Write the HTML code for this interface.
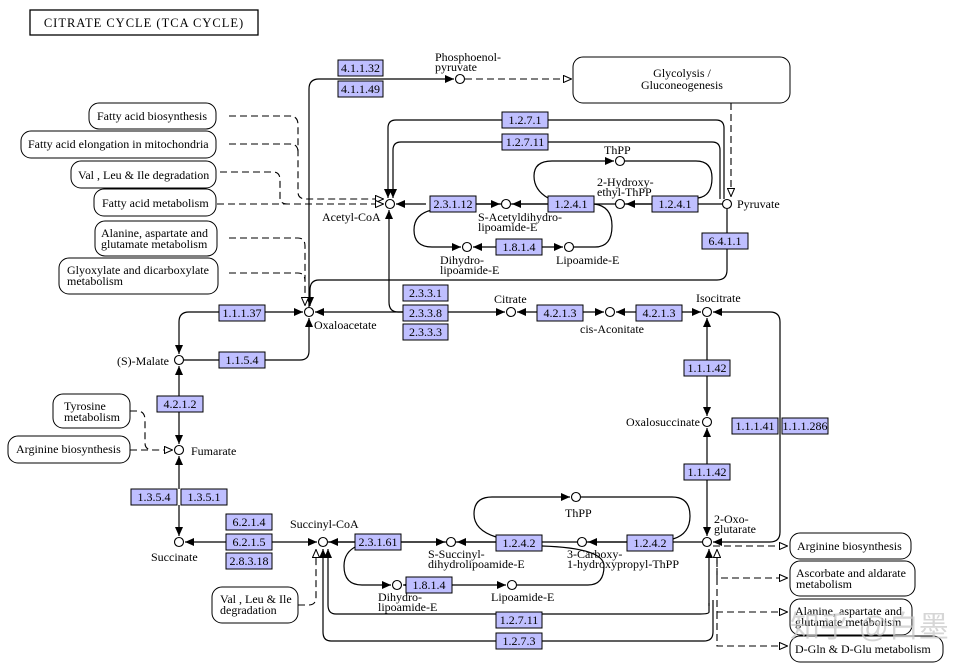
<!DOCTYPE html>
<html><head><meta charset="utf-8"><style>
html,body{margin:0;padding:0;background:#fff;}
svg{display:block;font-family:"Liberation Serif","Noto Serif CJK SC",serif;}
.e rect{fill:#bfbfff;stroke:#000;stroke-width:1;}
.e text{font-size:12px;text-anchor:middle;}
.m rect{fill:#fff;stroke:#000;stroke-width:1;}
.m text{font-size:12px;}
.l{fill:none;stroke:#000;stroke-width:1.2;}
.d{fill:none;stroke:#000;stroke-width:1.1;stroke-dasharray:7,4;}
.c{fill:#fff;stroke:#000;stroke-width:1.1;}
.t{font-size:12px;}
</style></head><body>
<svg width="956" height="665" viewBox="0 0 956 665" xmlns="http://www.w3.org/2000/svg">
<defs>
<marker id="af" markerWidth="9" markerHeight="8" refX="9" refY="4" orient="auto" markerUnits="userSpaceOnUse"><path d="M0,0 L9,4 L0,8 Z" fill="#000"/></marker>
<marker id="ao" markerWidth="9" markerHeight="8" refX="9" refY="4" orient="auto" markerUnits="userSpaceOnUse"><path d="M0.5,0.5 L8.5,4 L0.5,7.5 Z" fill="#fff" stroke="#000" stroke-width="1"/></marker>
</defs>
<rect x="30" y="10" width="228" height="25" fill="#fff" stroke="#000" stroke-width="1.3"/>
<text x="144" y="27" font-size="12.5" text-anchor="middle" letter-spacing="1">CITRATE CYCLE (TCA CYCLE)</text>

<path class="l" d="M309,307 V89 Q309,79 319,79 H454" marker-end="url(#af)"/>
<path class="l" d="M724,199 V128 Q724,120 716,120 H396 Q388,120 388,128 V198" marker-end="url(#af)"/>
<path class="l" d="M720,199 V150 Q720,142 712,142 H401 Q393,142 393,150 V198" marker-end="url(#af)"/>
<path class="l" d="M426,204 H396" marker-end="url(#af)"/>
<line class="l" x1="430" y1="204" x2="722" y2="204"/>
<path class="l" d="M476,204 H500" marker-end="url(#af)"/>
<path class="l" d="M548,204 H512" marker-end="url(#af)"/>
<path class="l" d="M652,204 H626" marker-end="url(#af)"/>
<path class="l" d="M432,210 Q414,214 414,230 Q414,247 432,247 H461" marker-end="url(#af)"/>
<path class="l" d="M496,247 H473" marker-end="url(#af)"/>
<path class="l" d="M542,247 H563" marker-end="url(#af)"/>
<path class="l" d="M574,247 H595 Q612,247 612,226 Q612,206 594,204"/>
<path class="l" d="M548,198 Q534,190 534,176 Q534,161 552,161 H614" marker-end="url(#af)"/>
<path class="l" d="M625,161 H696 Q712,161 712,178 Q712,196 698,198"/>
<path class="l" d="M727,209 V270 Q727,280 717,280 H319 Q310,280 310,290 V306" marker-end="url(#af)"/>
<path class="l" d="M403,312 H398 Q389,312 389,302 V210" marker-end="url(#af)"/>
<path class="l" d="M403,312 H315" marker-end="url(#af)"/>
<path class="l" d="M448,312 H505" marker-end="url(#af)"/>
<path class="l" d="M537,312 H517" marker-end="url(#af)"/>
<path class="l" d="M583,312 H604" marker-end="url(#af)"/>
<path class="l" d="M636,312 H616" marker-end="url(#af)"/>
<path class="l" d="M682,312 H701" marker-end="url(#af)"/>
<path class="l" d="M780,330 V322 Q780,312 770,312 H713" marker-end="url(#af)"/>
<path class="l" d="M780,330 V532 Q780,542 770,542 H713" marker-end="url(#af)"/>
<path class="l" d="M707,360 V318" marker-end="url(#af)"/>
<path class="l" d="M707,376 V416" marker-end="url(#af)"/>
<path class="l" d="M707,464 V428" marker-end="url(#af)"/>
<path class="l" d="M707,480 V536" marker-end="url(#af)"/>
<line class="l" x1="328" y1="542" x2="702" y2="542"/>
<path class="l" d="M355,542 H329" marker-end="url(#af)"/>
<path class="l" d="M401,542 H445" marker-end="url(#af)"/>
<path class="l" d="M496,542 H457" marker-end="url(#af)"/>
<path class="l" d="M627,542 H588" marker-end="url(#af)"/>
<path class="l" d="M496,537 Q474,530 474,514 Q474,497 492,497 H570" marker-end="url(#af)"/>
<path class="l" d="M581,497 H672 Q690,497 690,516 Q690,534 673,539"/>
<path class="l" d="M357,546 Q344,552 344,566 Q344,585 362,585 H391" marker-end="url(#af)"/>
<path class="l" d="M406,585 H403" marker-end="url(#af)"/>
<path class="l" d="M452,585 H506" marker-end="url(#af)"/>
<path class="l" d="M517,585 H588 Q604,585 604,566 Q604,548 542,546"/>
<path class="l" d="M709,603 V612 Q709,614 700,614 H336 Q328,614 328,605 V549" marker-end="url(#af)"/>
<path class="l" d="M709,606 V549" marker-end="url(#af)"/>
<path class="l" d="M713,600 V632 Q713,641 704,641 H331 Q323,641 323,632 V549" marker-end="url(#af)"/>
<path class="l" d="M226,542 H185" marker-end="url(#af)"/>
<path class="l" d="M272,542 H317" marker-end="url(#af)"/>
<path class="l" d="M179,489 V456" marker-end="url(#af)"/>
<path class="l" d="M179,505 V536" marker-end="url(#af)"/>
<path class="l" d="M179,396 V366" marker-end="url(#af)"/>
<path class="l" d="M179,412 V444" marker-end="url(#af)"/>
<path class="l" d="M219,312 H189 Q179,312 179,322 V354" marker-end="url(#af)"/>
<path class="l" d="M265,312 H303" marker-end="url(#af)"/>
<line class="l" x1="184" y1="360" x2="219" y2="360"/>
<path class="l" d="M265,360 H300 Q309,360 309,351 V318" marker-end="url(#af)"/>

<path class="d" d="M465,79 H572" marker-end="url(#ao)"/>
<path class="d" d="M731,103 V197" marker-end="url(#ao)"/>
<path class="d" d="M229,116 H290 Q298,116 298,125 V192 Q298,199 306,199 H384" marker-end="url(#ao)"/>
<path class="d" d="M229,144 H290 Q298,144 298,152"/>
<path class="d" d="M220,172 H273 Q280,172 280,180 V198 Q280,204 288,204"/>
<path class="d" d="M217,204 H384" marker-end="url(#ao)"/>
<path class="d" d="M229,238 H298 Q305,238 305,246 V306" marker-end="url(#ao)"/>
<path class="d" d="M229,273 H298 Q305,273 305,281"/>
<path class="d" d="M130,411 H137 Q145,411 145,420 V443 Q145,450 153,450 H173" marker-end="url(#ao)"/>
<path class="d" d="M130,450 H150"/>
<path class="d" d="M298,605 H309 Q316,605 316,597 V549" marker-end="url(#ao)"/>
<path class="d" d="M713,546 H788" marker-end="url(#ao)"/>
<path class="d" d="M717,560 V578 H788" marker-end="url(#ao)"/>
<path class="d" d="M717,578 V612 H788" marker-end="url(#ao)"/>
<path class="d" d="M717,612 V646 H788" marker-end="url(#ao)"/>
<path class="d" d="M717,575 V549" marker-end="url(#ao)"/>

<g>
<circle class="c" cx="460" cy="79" r="4.5"/>
<circle class="c" cx="390" cy="204" r="4.5"/>
<circle class="c" cx="506" cy="204" r="4.5"/>
<circle class="c" cx="620" cy="204" r="4.5"/>
<circle class="c" cx="620" cy="161" r="4.5"/>
<circle class="c" cx="727" cy="204" r="4.5"/>
<circle class="c" cx="467" cy="247" r="4.5"/>
<circle class="c" cx="569" cy="247" r="4.5"/>
<circle class="c" cx="309" cy="312" r="4.5"/>
<circle class="c" cx="511" cy="312" r="4.5"/>
<circle class="c" cx="610" cy="312" r="4.5"/>
<circle class="c" cx="707" cy="312" r="4.5"/>
<circle class="c" cx="179" cy="360" r="4.5"/>
<circle class="c" cx="179" cy="450" r="4.5"/>
<circle class="c" cx="707" cy="422" r="4.5"/>
<circle class="c" cx="179" cy="542" r="4.5"/>
<circle class="c" cx="323" cy="542" r="4.5"/>
<circle class="c" cx="451" cy="542" r="4.5"/>
<circle class="c" cx="582" cy="542" r="4.5"/>
<circle class="c" cx="576" cy="497" r="4.5"/>
<circle class="c" cx="707" cy="542" r="4.5"/>
<circle class="c" cx="397" cy="585" r="4.5"/>
<circle class="c" cx="512" cy="585" r="4.5"/>
</g>

<g class="t">
<text x="435" y="61">Phosphoenol-</text><text x="435" y="71">pyruvate</text>
<text x="322" y="221">Acetyl-CoA</text>
<text x="478" y="221">S-Acetyldihydro-</text><text x="478" y="231">lipoamide-E</text>
<text x="604" y="154">ThPP</text>
<text x="597" y="186">2-Hydroxy-</text><text x="597" y="196">ethyl-ThPP</text>
<text x="737" y="208">Pyruvate</text>
<text x="440" y="264">Dihydro-</text><text x="440" y="274">lipoamide-E</text>
<text x="556" y="264">Lipoamide-E</text>
<text x="314" y="329">Oxaloacetate</text>
<text x="494" y="303">Citrate</text>
<text x="580" y="333">cis-Aconitate</text>
<text x="696" y="302">Isocitrate</text>
<text x="117" y="365">(S)-Malate</text>
<text x="191" y="455">Fumarate</text>
<text x="626" y="426">Oxalosuccinate</text>
<text x="151" y="561">Succinate</text>
<text x="290" y="528">Succinyl-CoA</text>
<text x="428" y="558">S-Succinyl-</text><text x="428" y="568">dihydrolipoamide-E</text>
<text x="565" y="517">ThPP</text>
<text x="567" y="558">3-Carboxy-</text><text x="567" y="568">1-hydroxypropyl-ThPP</text>
<text x="714" y="523">2-Oxo-</text><text x="714" y="533">glutarate</text>
<text x="378" y="601">Dihydro-</text><text x="378" y="611">lipoamide-E</text>
<text x="491" y="601">Lipoamide-E</text>
</g>

<g class="m">
<rect x="573" y="57" width="217" height="46" rx="10"/><text x="682" y="77" text-anchor="middle">Glycolysis /</text><text x="682" y="89" text-anchor="middle">Gluconeogenesis</text>
<rect x="89" y="103" width="127" height="26" rx="10"/><text x="97" y="120">Fatty acid biosynthesis</text>
<rect x="21" y="131" width="195" height="27" rx="10"/><text x="28" y="148">Fatty acid elongation in mitochondria</text>
<rect x="71" y="161" width="145" height="27" rx="10"/><text x="78" y="179">Val , Leu &amp; Ile degradation</text>
<rect x="94" y="189" width="122" height="27" rx="10"/><text x="102" y="207">Fatty acid metabolism</text>
<rect x="95" y="221" width="122" height="35" rx="10"/><text x="101" y="237">Alanine, aspartate and</text><text x="101" y="248">glutamate metabolism</text>
<rect x="59" y="258" width="159" height="36" rx="10"/><text x="67" y="274">Glyoxylate and dicarboxylate</text><text x="67" y="285">metabolism</text>
<rect x="53" y="394" width="77" height="34" rx="10"/><text x="64" y="410">Tyrosine</text><text x="64" y="421">metabolism</text>
<rect x="8" y="436" width="122" height="27" rx="10"/><text x="16" y="453">Arginine biosynthesis</text>
<rect x="212" y="587" width="86" height="36" rx="10"/><text x="220" y="603">Val , Leu &amp; Ile</text><text x="220" y="614">degradation</text>
<rect x="790" y="533" width="121" height="26" rx="10"/><text x="797" y="550">Arginine biosynthesis</text>
<rect x="790" y="561" width="125" height="35" rx="10"/><text x="796" y="577">Ascorbate and aldarate</text><text x="796" y="588">metabolism</text>
<rect x="790" y="599" width="122" height="36" rx="10"/><text x="795" y="615">Alanine, aspartate and</text><text x="795" y="626">glutamate metabolism</text>
<rect x="790" y="636" width="153" height="26" rx="10"/><text x="795" y="653">D-Gln &amp; D-Glu metabolism</text>
</g>

<g class="e">
<rect x="338" y="60" width="45" height="16"/><text x="360.5" y="72">4.1.1.32</text>
<rect x="338" y="81" width="45" height="16"/><text x="360.5" y="93">4.1.1.49</text>
<rect x="502" y="112" width="46" height="16"/><text x="525" y="124">1.2.7.1</text>
<rect x="502" y="134" width="46" height="16"/><text x="525" y="146">1.2.7.11</text>
<rect x="430" y="196" width="46" height="16"/><text x="453" y="208">2.3.1.12</text>
<rect x="548" y="196" width="46" height="16"/><text x="571" y="208">1.2.4.1</text>
<rect x="652" y="196" width="46" height="16"/><text x="675" y="208">1.2.4.1</text>
<rect x="496" y="239" width="46" height="16"/><text x="519" y="251">1.8.1.4</text>
<rect x="702" y="233" width="46" height="16"/><text x="725" y="245">6.4.1.1</text>
<rect x="403" y="285" width="45" height="16"/><text x="425.5" y="297">2.3.3.1</text>
<rect x="403" y="305" width="45" height="16"/><text x="425.5" y="317">2.3.3.8</text>
<rect x="403" y="324" width="45" height="16"/><text x="425.5" y="336">2.3.3.3</text>
<rect x="537" y="305" width="46" height="16"/><text x="560" y="317">4.2.1.3</text>
<rect x="636" y="305" width="46" height="16"/><text x="659" y="317">4.2.1.3</text>
<rect x="219" y="305" width="46" height="16"/><text x="242" y="317">1.1.1.37</text>
<rect x="219" y="352" width="46" height="16"/><text x="242" y="364">1.1.5.4</text>
<rect x="157" y="396" width="46" height="16"/><text x="180" y="408">4.2.1.2</text>
<rect x="684" y="360" width="46" height="16"/><text x="707" y="372">1.1.1.42</text>
<rect x="732" y="418" width="46" height="16"/><text x="755" y="430">1.1.1.41</text>
<rect x="782" y="418" width="46" height="16"/><text x="805" y="430">1.1.1.286</text>
<rect x="684" y="464" width="46" height="16"/><text x="707" y="476">1.1.1.42</text>
<rect x="131" y="489" width="46" height="16"/><text x="154" y="501">1.3.5.4</text>
<rect x="181" y="489" width="46" height="16"/><text x="204" y="501">1.3.5.1</text>
<rect x="226" y="514" width="46" height="16"/><text x="249" y="526">6.2.1.4</text>
<rect x="226" y="534" width="46" height="16"/><text x="249" y="546">6.2.1.5</text>
<rect x="226" y="553" width="46" height="16"/><text x="249" y="565">2.8.3.18</text>
<rect x="355" y="534" width="46" height="16"/><text x="378" y="546">2.3.1.61</text>
<rect x="496" y="535" width="46" height="16"/><text x="519" y="547">1.2.4.2</text>
<rect x="627" y="535" width="46" height="16"/><text x="650" y="547">1.2.4.2</text>
<rect x="406" y="577" width="46" height="16"/><text x="429" y="589">1.8.1.4</text>
<rect x="496" y="612" width="46" height="16"/><text x="519" y="624">1.2.7.11</text>
<rect x="496" y="633" width="46" height="16"/><text x="519" y="645">1.2.7.3</text>
</g>
<text x="790" y="637" font-size="30" fill="#c8c8c8" fill-opacity="0.75" font-family="'Liberation Sans','Noto Sans CJK SC',sans-serif">知乎 @白墨</text>
</svg>
</body></html>
